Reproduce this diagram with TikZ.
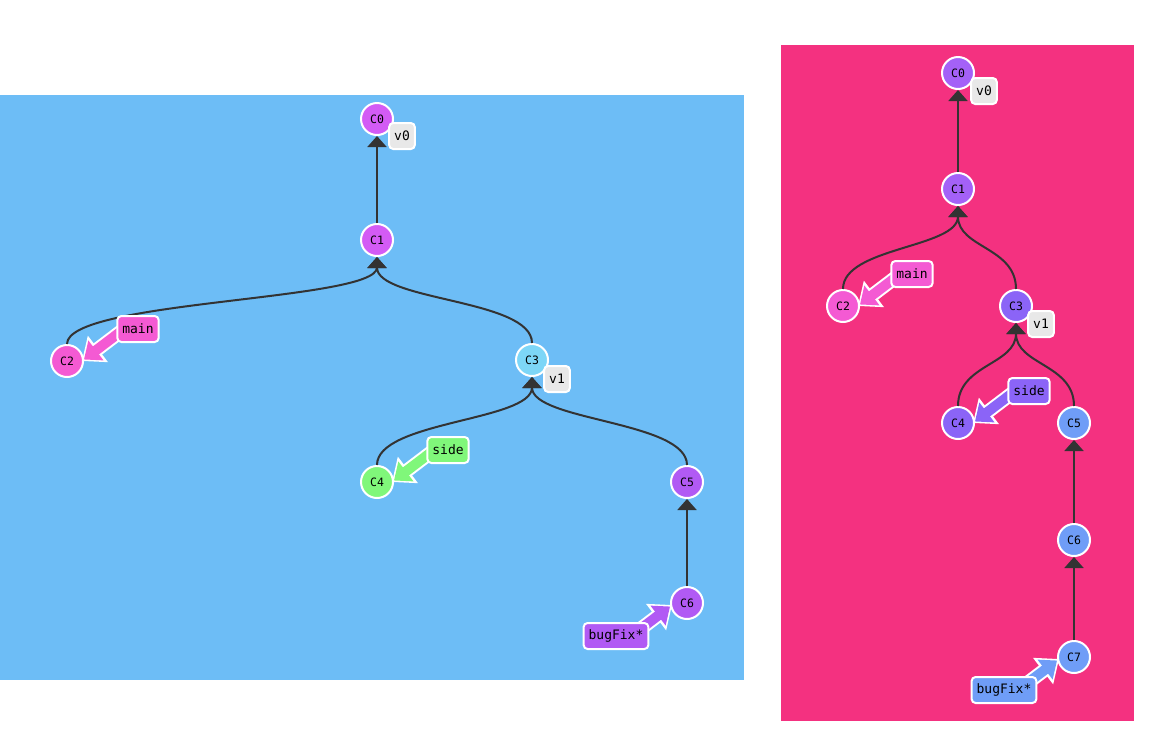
\documentclass[tikz,border=0pt]{standalone}
\usepackage{fontspec}
\setmonofont{DejaVu Sans Mono}
\usetikzlibrary{arrows.meta,calc}
\definecolor{lbg}{HTML}{6DBDF6}
\definecolor{rbg}{HTML}{F43180}
\definecolor{lpurple}{HTML}{D35BF5}
\definecolor{pinkm}{HTML}{F45AD3}
\definecolor{lcyan}{HTML}{7DD6F7}
\definecolor{lgreen}{HTML}{80F77A}
\definecolor{lviolet}{HTML}{B15AF4}
\definecolor{rpurple}{HTML}{A461F7}
\definecolor{rviolet}{HTML}{8B64F7}
\definecolor{rblue}{HTML}{6F9DF7}
\definecolor{taggray}{HTML}{E8E8E8}
\definecolor{edgegray}{HTML}{333333}
\newcommand\brarrow[3]{%
  \draw[white, line width=14pt, -{Triangle[width=32pt,length=20pt]}] (#1) -- (#2);
  \draw[#3, line width=10pt, shorten >=2.5pt, -{Triangle[width=24pt,length=15pt]}] (#1) -- (#2);
}
\begin{document}
\begin{tikzpicture}[x=1pt,y=-1pt,
  commit/.style={circle, draw=white, line width=2pt, minimum size=32pt, inner sep=0pt,
    font=\ttfamily\fontsize{11.5}{13}\selectfont},
  edge/.style={draw=edgegray, line width=2pt, -{Triangle[width=19pt,length=11pt]}},
  tag/.style={draw=white, line width=2pt, fill=taggray, rounded corners=4pt, inner xsep=5pt,
    inner ysep=0pt, minimum height=26pt, font=\ttfamily\fontsize{13}{15}\selectfont},
  branch/.style={draw=white, line width=2pt, rounded corners=4pt, inner xsep=5pt,
    inner ysep=0pt, minimum height=26pt, font=\ttfamily\fontsize{13}{15}\selectfont}]
\useasboundingbox (0,0) rectangle (1170,729);
\fill[white] (0,0) rectangle (1170,729);
\fill[lbg] (0,95) rectangle (744,680);
\fill[rbg] (781,45) rectangle (1134,721);

% ---------- left panel ----------
\node[commit, fill=lpurple] (LC0) at (377,119) {C0};
\node[commit, fill=lpurple] (LC1) at (377,240) {C1};
\node[commit, fill=pinkm] (LC2) at (67,361) {C2};
\node[commit, fill=lcyan] (LC3) at (532,360) {C3};
\node[commit, fill=lgreen] (LC4) at (377,482) {C4};
\node[commit, fill=lviolet] (LC5) at (687,482) {C5};
\node[commit, fill=lviolet] (LC6) at (687,603) {C6};

% ---------- right panel ----------
\node[commit, fill=rpurple] (RC0) at (958,73) {C0};
\node[commit, fill=rpurple] (RC1) at (958,189) {C1};
\node[commit, fill=pinkm] (RC2) at (843,306) {C2};
\node[commit, fill=rviolet] (RC3) at (1016,306) {C3};
\node[commit, fill=rviolet] (RC4) at (958,423) {C4};
\node[commit, fill=rblue] (RC5) at (1074,423) {C5};
\node[commit, fill=rblue] (RC6) at (1074,540) {C6};
\node[commit, fill=rblue] (RC7) at (1074,657) {C7};

% edges
\draw[edge] (LC1.north) -- (LC0.south);
\draw[edge] (LC2.north) .. controls +(0,-44) and +(0,44) .. (LC1.south);
\draw[edge] (LC3.north) .. controls +(0,-44) and +(0,44) .. (LC1.south);
\draw[edge] (LC4.north) .. controls +(0,-44) and +(0,44) .. (LC3.south);
\draw[edge] (LC5.north) .. controls +(0,-44) and +(0,44) .. (LC3.south);
\draw[edge] (LC6.north) -- (LC5.south);
\draw[edge] (RC1.north) -- (RC0.south);
\draw[edge] (RC2.north) .. controls +(0,-42) and +(0,42) .. (RC1.south);
\draw[edge] (RC3.north) .. controls +(0,-42) and +(0,42) .. (RC1.south);
\draw[edge] (RC4.north) .. controls +(0,-42) and +(0,42) .. (RC3.south);
\draw[edge] (RC5.north) .. controls +(0,-42) and +(0,42) .. (RC3.south);
\draw[edge] (RC6.north) -- (RC5.south);
\draw[edge] (RC7.north) -- (RC6.south);

% branch arrows
\coordinate (LmainTip) at ($(LC2)+(15,0)$);
\coordinate (LmainTail) at ($(LmainTip)+(50,-38)$);
\coordinate (LsideTip) at ($(LC4)+(15,0)$);
\coordinate (LsideTail) at ($(LsideTip)+(50,-38)$);
\coordinate (LbugTip) at ($(LC6)+(-15,2)$);
\coordinate (LbugTail) at ($(LbugTip)+(-50,38)$);
\coordinate (RmainTip) at ($(RC2)+(15,0)$);
\coordinate (RmainTail) at ($(RmainTip)+(50,-38)$);
\coordinate (RsideTip) at ($(RC4)+(15,0)$);
\coordinate (RsideTail) at ($(RsideTip)+(50,-38)$);
\coordinate (RbugTip) at ($(RC7)+(-15,2)$);
\coordinate (RbugTail) at ($(RbugTip)+(-50,38)$);
\brarrow{LmainTail}{LmainTip}{pinkm}
\brarrow{LsideTail}{LsideTip}{lgreen}
\brarrow{LbugTail}{LbugTip}{lviolet}
\brarrow{RmainTail}{RmainTip}{pinkm}
\brarrow{RsideTail}{RsideTip}{rviolet}
\brarrow{RbugTail}{RbugTip}{rblue}

% branch labels
\node[branch, fill=pinkm] (Lmain) at (138,329) {main};
\node[branch, fill=lgreen] (Lside) at (448,450) {side};
\node[branch, fill=lviolet] (Lbug) at (616,636) {bugFix*};
\node[branch, fill=pinkm] (Rmain) at (912,274) {main};
\node[branch, fill=rviolet] (Rside) at (1029,391) {side};
\node[branch, fill=rblue] (Rbug) at (1004,690) {bugFix*};

% tags
\node[tag] (Lv0) at (402,136) {v0};
\node[tag] (Lv1) at (557,379) {v1};
\node[tag] (Rv0) at (984,91) {v0};
\node[tag] (Rv1) at (1041,324) {v1};
\end{tikzpicture}
\end{document}
